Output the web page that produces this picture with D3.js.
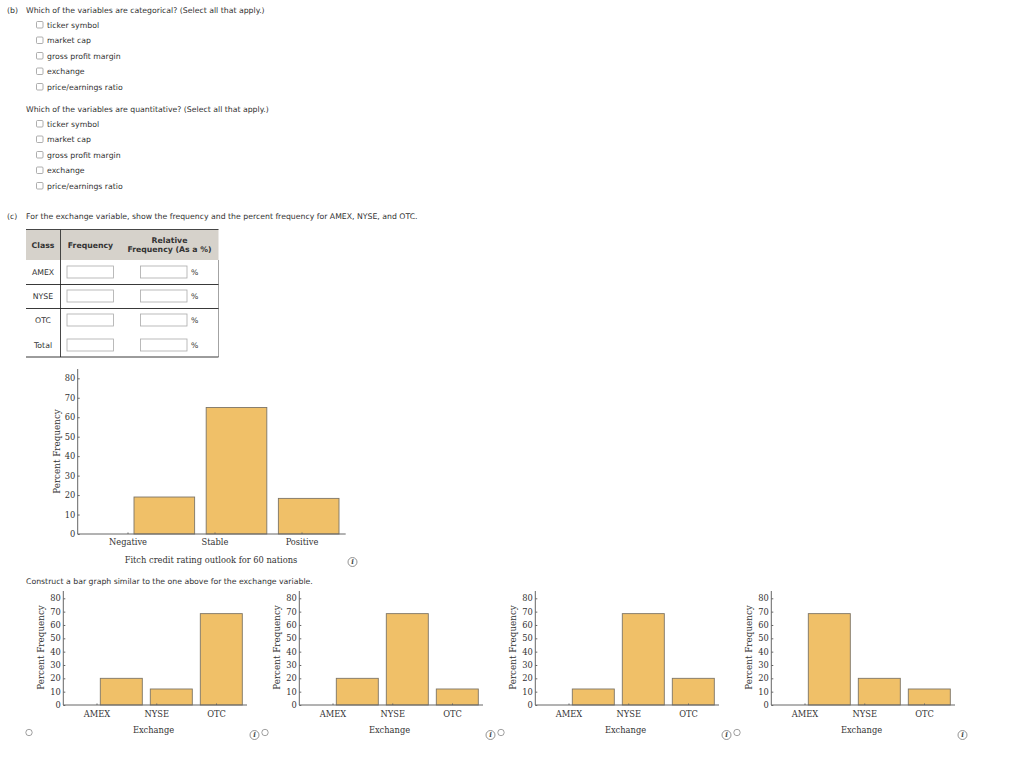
<!DOCTYPE html>
<html>
<head>
<meta charset="utf-8">
<style>
    body { margin: 0; background: #fff; }
    svg { display: block; }
    .ui { font-family: "DejaVu Sans", sans-serif; font-size: 7.75px; fill: #333; }
    .bold { font-weight: bold; }
    .chart text { font-family: "DejaVu Serif", serif; font-size: 8.3px; fill: #333; }
    .chart text.ytitle { font-size: 8.8px; }
    .chart .domain, .chart .tick line { stroke: #666; }
</style>
</head>
<body>
<svg id="page" width="1024" height="760"></svg>
<script src="https://cdn.jsdelivr.net/npm/d3@7"></script>
<script>
const variables = ["ticker symbol", "market cap", "gross profit margin", "exchange", "price/earnings ratio"];
const tableClasses = ["AMEX", "NYSE", "OTC", "Total"];

const outlookCategories = ["Negative", "Stable", "Positive"];
const outlookValues = [19, 65, 18.3];

const exchangeCategories = ["AMEX", "NYSE", "OTC"];
const optionAValues = [20, 12, 68.5];
const optionBValues = [20, 68.5, 12];
const optionCValues = [12, 68.5, 20];
const optionDValues = [68.5, 20, 12];

const yTicks = [0, 10, 20, 30, 40, 50, 60, 70, 80];

const svg = d3.select("#page");

function uiText(x, y, str, cls) {
    return svg.append("text")
        .attr("class", "ui " + (cls || ""))
        .attr("x", x)
        .attr("y", y)
        .attr("dy", "0.35em")
        .text(str);
}

function infoIcon(x, y) {
    svg.append("circle").attr("cx", x).attr("cy", y).attr("r", 4.5)
        .attr("fill", "#fff").attr("stroke", "#777").attr("stroke-width", 0.8);
    svg.append("text").attr("x", x).attr("y", y).attr("dy", "0.35em")
        .attr("text-anchor", "middle")
        .style("font", "italic bold 7px 'DejaVu Serif', serif")
        .style("fill", "#444")
        .text("i");
}

function radio(x, y) {
    svg.append("circle").attr("cx", x).attr("cy", y).attr("r", 3.2)
        .attr("fill", "#fff").attr("stroke", "#888").attr("stroke-width", 0.8);
}

function checkList(top) {
    const rowY = d3.scalePoint().domain(variables).range([top, top + 62]);
    variables.forEach(v => {
        svg.append("rect")
            .attr("x", 36.5).attr("y", rowY(v) - 3.5)
            .attr("width", 6.5).attr("height", 6.5).attr("rx", 1)
            .attr("fill", "#fff").attr("stroke", "#999").attr("stroke-width", 0.8);
        uiText(47, rowY(v), v);
    });
}

// part (b)
uiText(7, 10.5, "(b)");
uiText(26, 10.5, "Which of the variables are categorical? (Select all that apply.)");
checkList(25);
uiText(26, 109, "Which of the variables are quantitative? (Select all that apply.)");
checkList(124);

// part (c) table
uiText(7, 216, "(c)");
uiText(26, 216, "For the exchange variable, show the frequency and the percent frequency for AMEX, NYSE, and OTC.");

svg.append("rect").attr("x", 26).attr("y", 229.5).attr("width", 192.5).attr("height", 30.5).attr("fill", "#d6d2cb");

function tableLine(x1, y1, x2, y2, color) {
    svg.append("line").attr("x1", x1).attr("y1", y1).attr("x2", x2).attr("y2", y2)
        .attr("stroke", color).attr("stroke-width", 0.9);
}
tableLine(26, 229.5, 218.5, 229.5, "#333");
tableLine(60.5, 229.5, 60.5, 357, "#333");
tableLine(218.5, 260, 218.5, 357, "#999");
tableLine(26, 284.5, 218.5, 284.5, "#222");
tableLine(26, 308.5, 218.5, 308.5, "#222");
tableLine(26, 357, 218.5, 357, "#222");

uiText(43, 245, "Class", "bold").attr("text-anchor", "middle");
uiText(90.5, 245, "Frequency", "bold").attr("text-anchor", "middle");
uiText(169.5, 240, "Relative", "bold").attr("text-anchor", "middle");
uiText(169.5, 249, "Frequency (As a %)", "bold").attr("text-anchor", "middle");

const tableRowY = d3.scaleOrdinal().domain(tableClasses).range([272, 296, 320, 345]);
tableClasses.forEach(c => {
    const y = tableRowY(c);
    uiText(43, y, c).attr("text-anchor", "middle");
    [67, 140.5].forEach(x => {
        svg.append("rect").attr("x", x).attr("y", y - 6).attr("width", 46.5).attr("height", 12)
            .attr("fill", "#fff").attr("stroke", "#aaa").attr("stroke-width", 0.8);
    });
    uiText(191, y, "%");
});

// orange bar chart with its label axis offset from the bars, as in the original
function barChart(cfg) {
    const g = svg.append("g").attr("class", "chart");

    const y = d3.scaleLinear().domain([0, 80]).range([cfg.y0, cfg.y80]);
    const xBars = d3.scaleBand().domain(cfg.categories).range(cfg.barRange).paddingInner(0.16);
    const xLabels = d3.scalePoint().domain(cfg.categories).range(cfg.labelRange);

    g.selectAll("rect.bar")
        .data(cfg.values)
        .join("rect")
        .attr("class", "bar")
        .attr("x", (d, i) => xBars(cfg.categories[i]))
        .attr("y", d => y(d))
        .attr("width", xBars.bandwidth())
        .attr("height", d => y(0) - y(d))
        .attr("fill", "#f0c068")
        .attr("stroke", "#7d7566")
        .attr("stroke-width", 0.9);

    const yAxis = d3.axisLeft(y).tickValues(yTicks).tickSize(-2).tickPadding(2.5);
    g.append("g")
        .attr("transform", `translate(${cfg.axisX},0)`)
        .call(yAxis)
        .call(s => s.select(".domain").attr("d", `M0,${cfg.y0}V${cfg.top}`));

    const xAxis = d3.axisBottom(xLabels).tickSize(-1.5).tickPadding(cfg.labelPad);
    g.append("g")
        .attr("transform", `translate(0,${cfg.y0})`)
        .call(xAxis)
        .call(s => s.select(".domain").attr("d", `M${cfg.axisX},0H${cfg.axisEnd}`));

    g.append("text")
        .attr("class", "ytitle")
        .attr("text-anchor", "middle")
        .attr("transform", `translate(${cfg.yTitleX},${cfg.yTitleY}) rotate(-90)`)
        .text("Percent Frequency");

    g.append("text")
        .attr("text-anchor", "middle")
        .attr("x", cfg.xTitleX)
        .attr("y", cfg.xTitleBase)
        .text(cfg.xTitle);
}

barChart({
    categories: outlookCategories,
    values: outlookValues,
    y0: 534, y80: 378.3, top: 369,
    axisX: 77.7, axisEnd: 345.7,
    barRange: [134, 339],
    labelRange: [127.5, 301.5],
    labelPad: 5.5,
    yTitleX: 59.5, yTitleY: 451.5,
    xTitle: "Fitch credit rating outlook for 60 nations",
    xTitleX: 211, xTitleBase: 562.5
});
infoIcon(352.5, 562);

uiText(26, 581, "Construct a bar graph similar to the one above for the exchange variable.");

const options = [optionAValues, optionBValues, optionCValues, optionDValues];
const optionX = d3.scaleLinear().domain([0, 3]).range([0, 708]);

options.forEach((values, i) => {
    const dx = optionX(i);
    barChart({
        categories: exchangeCategories,
        values: values,
        y0: 705, y80: 598.3, top: 591,
        axisX: 63.3 + dx, axisEnd: 247 + dx,
        barRange: [100.3 + dx, 242.3 + dx],
        labelRange: [96.5 + dx, 216 + dx],
        labelPad: 6,
        yTitleX: 43.5 + dx, yTitleY: 647.5,
        xTitle: "Exchange",
        xTitleX: 153.5 + dx, xTitleBase: 733
    });
    radio(29 + dx, 732.5);
    infoIcon(254.5 + dx, 735);
});
</script>
</body>
</html>
